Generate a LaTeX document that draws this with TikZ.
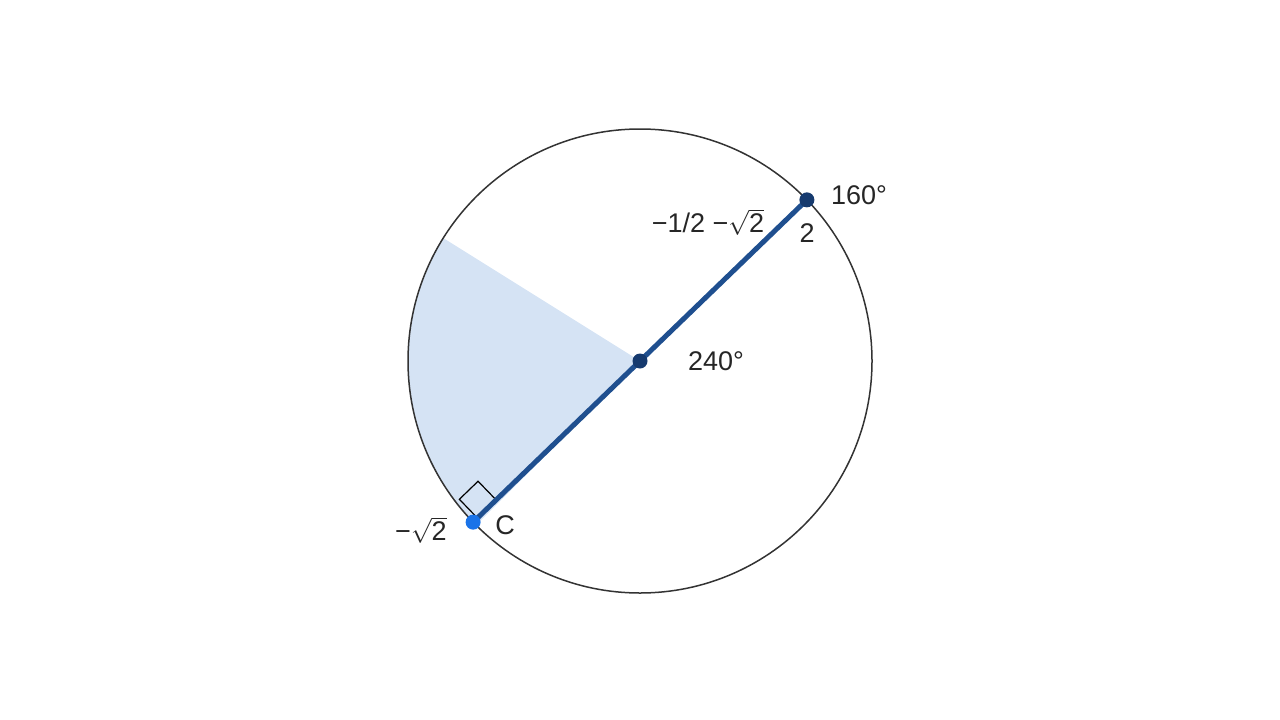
\documentclass[tikz,border=0pt]{standalone}
\usepackage{fontspec}
\setmainfont{Liberation Sans}
\usetikzlibrary{calc}
\definecolor{linecol}{HTML}{1F4F8F}
\definecolor{navy}{HTML}{163A6E}
\definecolor{brightblue}{HTML}{1A73E8}
\definecolor{sectorfill}{HTML}{D5E3F4}
\definecolor{circ}{HTML}{333333}
\begin{document}
\begin{tikzpicture}[x=1pt,y=-1pt,
  lbl/.style={font=\fontsize{27}{30}\selectfont, text=black!85, inner sep=0pt},
  dotpt/.style={circle, fill=#1, minimum size=15pt, inner sep=0pt}]
\useasboundingbox (0,0) rectangle (1280,720);
\coordinate (O) at (640,361);
\def\R{232}
% shaded sector
\fill[sectorfill] (O) -- ($(O)+(-148:\R)$) arc[start angle=-148, end angle=-225, radius=\R] -- cycle;
% circle
\draw[circ, line width=1.5pt] (O) circle[radius=\R];
% points
\coordinate (A) at ($(O)+(-44:\R)$);
\coordinate (C) at ($(O)+(-224:\R)$);
% right angle marker
\coordinate (m1) at ($(C)!6pt!(A)$);
\coordinate (m2) at ($(C)!32pt!(A)$);
\coordinate (m3) at ($(m2)!26pt!90:(A)$);
\coordinate (m4) at ($(m1)!26pt!90:(A)$);
\draw[black, line width=1.2pt] (m1) -- (m4) -- (m3) -- (m2);
% diameter
\draw[linecol, line width=5pt] (C) -- (A);
\node[dotpt=navy] (Ad) at (A) {};
\node[dotpt=navy] (Od) at (O) {};
\node[dotpt=brightblue] (Cd) at (C) {};
% labels
\node[lbl] (l1) at (708,222) {−1/2 −$\sqrt{\mbox{2}}$};
\node[lbl] (l2) at (859,195) {160°};
\node[lbl] (l3) at (807,233) {2};
\node[lbl] (l4) at (716,361) {240°};
\node[lbl] (l5) at (421,530) {−$\sqrt{\mbox{2}}$};
\node[lbl] (l6) at (505,525) {C};
\end{tikzpicture}
\end{document}
